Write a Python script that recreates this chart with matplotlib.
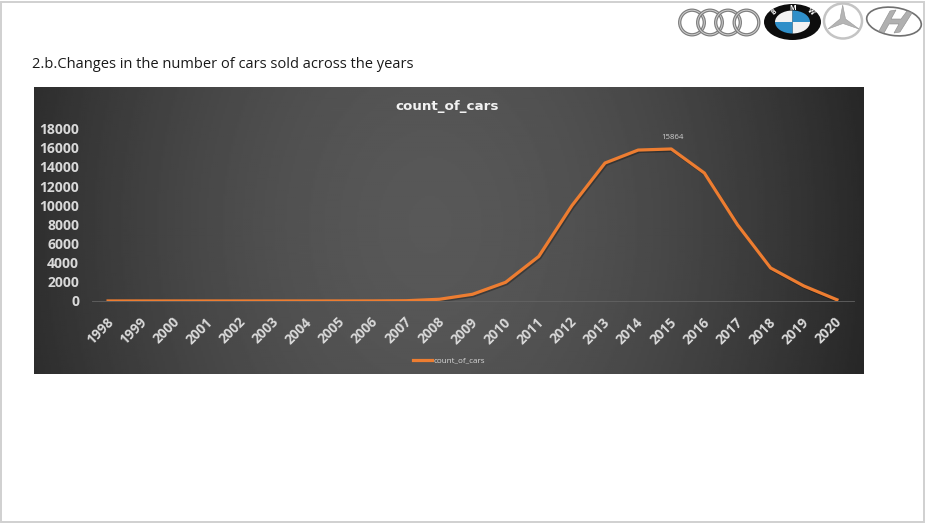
import numpy as np
import matplotlib
matplotlib.use("Agg")
import matplotlib.pyplot as plt
import matplotlib.patheffects as pe
from matplotlib.patches import Circle, Ellipse, Polygon, Wedge, Rectangle
from matplotlib.transforms import Affine2D, ScaledTranslation

years = list(range(1998, 2021))
count_of_cars = [5, 5, 5, 5, 5, 5, 5, 5, 10, 30, 180, 700, 1950, 4650, 9950,
                 14400, 15750, 15864, 13350, 7950, 3440, 1570, 130]
y_ticks = list(range(0, 18001, 2000))
peak_year = 2015
peak_label = "15864"

W, H = 925, 523
fig = plt.figure(figsize=(W / 100, H / 100), dpi=100, facecolor="white")


def px_axes(x0, y0, x1, y1, **kw):
    # axes placed by pixel box, y counted from the top like the screenshot
    return fig.add_axes([x0 / W, 1 - y1 / H, (x1 - x0) / W, (y1 - y0) / H], **kw)


# slide layer, uses pixel coords
slide = px_axes(0, 0, W, H)
slide.axis("off")
slide.add_patch(Rectangle((1, 1.5), W - 2.5, H - 3, fill=False, ec="#d0d0d0", lw=1.4))
slide.text(32, 64.5, "2.b.Changes in the number of cars sold across the years",
           family="Open Sans", fontsize=10.55, color="#1a1a1a", va="center")

# dark panel gradient
px, py = np.meshgrid(np.linspace(34, 864, 415), np.linspace(87, 374, 144))
r = np.hypot((px - 430) / 470, (py - 225) / 620)
shade = np.clip(0.345 - 0.21 * r ** 1.7, 0.14, 1)
slide.imshow(shade, extent=(34, 864, 374, 87), cmap="gray", vmin=0, vmax=1,
             aspect="auto", zorder=1)
slide.set_xlim(0, W)
slide.set_ylim(H, 0)

# audi rings
for cx in [692, 710, 728, 746.5]:
    slide.add_patch(Circle((cx, 22.5), 12.3, fill=False, ec="#7d7d7d", lw=2.4))
    slide.add_patch(Circle((cx, 22.5), 12.3, fill=False, ec="#cfcfcf", lw=0.7))

# bmw, squashed like the stretched logo in the slide
slide.add_patch(Ellipse((792.5, 22), 57, 36, fc="#0d0d0d", ec="none"))
bmw_tf = Affine2D().scale(17.5, 11.5).translate(792.5, 22) + slide.transData
for a0, col in [(0, "#f2f2f2"), (90, "#2f8fc9"), (180, "#f2f2f2"), (270, "#2f8fc9")]:
    slide.add_patch(Wedge((0, 0), 1, a0, a0 + 90, fc=col, ec="none", transform=bmw_tf))
for ch, (tx, ty), rot in [("B", (774, 12.5), 40), ("M", (792.5, 8.5), 0), ("W", (811, 12.5), -40)]:
    slide.text(tx, ty, ch, color="white", fontsize=5, weight="bold",
               ha="center", va="center", rotation=rot, family="Open Sans")

# mercedes
slide.add_patch(Ellipse((843, 21), 38, 35, fc="white", ec="#c4c4c4", lw=1.8))
slide.add_patch(Polygon([(842.7, 5), (845.5, 19), (859, 29), (843, 23.5), (828, 29), (840, 19)],
                        fc="#b5b5b5", ec="#9a9a9a", lw=0.4))

# hyundai
slide.add_patch(Ellipse((894, 21.5), 55, 28, angle=8, fc="white", ec="#707070", lw=1.2))
slide.add_patch(Polygon([(879, 31), (890, 11), (896, 10), (891, 19), (901, 19), (907, 11),
                         (912, 13), (900, 32), (894, 33), (899, 24), (889, 24), (884, 33)],
                        fc="#b0b0b0", ec="#8c8c8c", lw=0.4))

# the chart itself
ax = px_axes(91.5, 128.5, 853.5, 301)
ax.patch.set_alpha(0)
line, = ax.plot(years, count_of_cars, color="#ed7d31", lw=2.3, label="count_of_cars",
                solid_joinstyle="round",
                path_effects=[pe.SimpleLineShadow(offset=(0.8, -1), shadow_color="black", alpha=0.3),
                              pe.Normal()])
ax.set_xlim(years[0] - 0.5, years[-1] + 0.5)
ax.set_ylim(0, 18000)
ax.set_xticks(years)
ax.set_yticks(y_ticks)
ax.set_xticklabels(years, rotation=45, ha="center",
                   family="Open Sans", fontsize=9.8, weight="bold", color="#d9d9d9")
ax.set_yticklabels(y_ticks, family="Open Sans", fontsize=10, weight="bold", color="#d9d9d9")
ax.tick_params(length=0, axis="y", pad=9)
ax.tick_params(length=0, axis="x", pad=10)
shift = ScaledTranslation(-8 / 100, 0, fig.dpi_scale_trans)
for lab in ax.get_xticklabels():
    lab.set_transform(lab.get_transform() + shift)
for s in ["top", "right", "left"]:
    ax.spines[s].set_visible(False)
ax.spines["bottom"].set_color("#636363")
ax.spines["bottom"].set_linewidth(0.6)

ax.annotate(peak_label, (peak_year, count_of_cars[years.index(peak_year)]),
            xytext=(0.7, 5.5), textcoords="offset points", ha="center", va="bottom",
            family="Open Sans", fontsize=5.6, color="#d0d0d0")
ax.text(0.4665, 1.125, "count_of_cars", transform=ax.transAxes, family="DejaVu Sans",
        fontsize=9.7, weight="bold", color="#f2f2f2", ha="center", va="center")

leg = ax.legend(loc="center", bbox_to_anchor=(0.4695, -0.345), frameon=False,
                handlelength=2.4, handletextpad=0.2, labelcolor="#d9d9d9",
                prop={"family": "Open Sans", "size": 5.8})
leg.get_lines()[0].set_path_effects([pe.Normal()])

fig.savefig("out.png", dpi=100, facecolor="white")
